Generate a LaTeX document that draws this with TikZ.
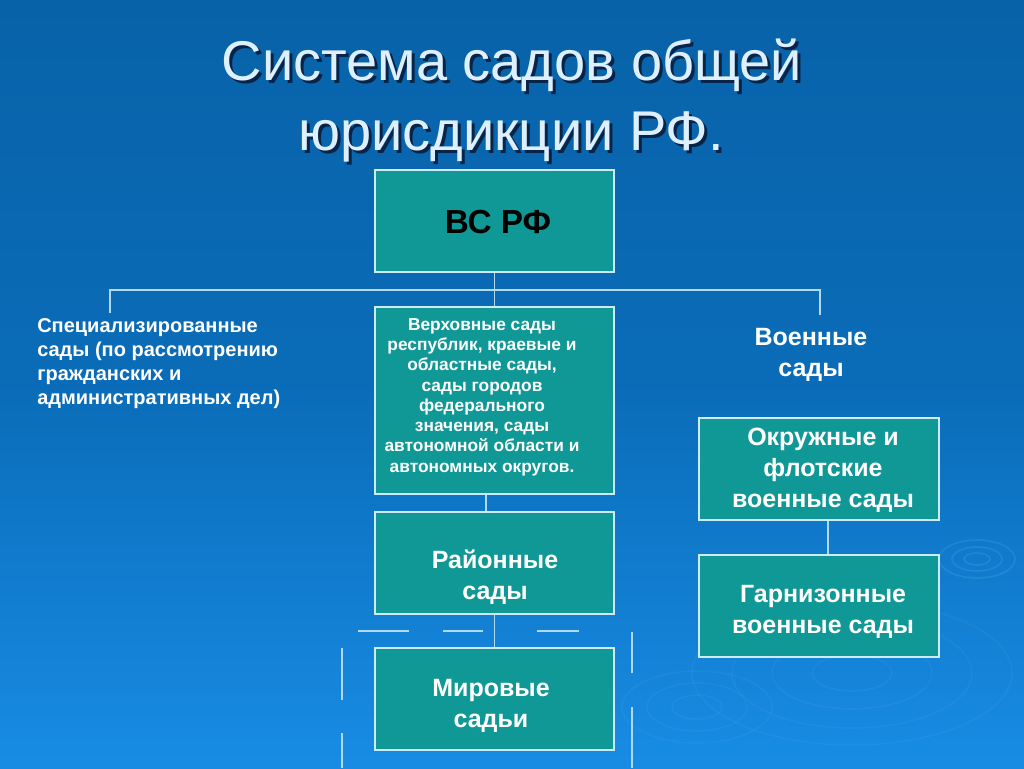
\documentclass[tikz,border=0pt]{standalone}
\usepackage{fontspec}
\setmainfont{Liberation Sans}
\definecolor{bgtop}{RGB}{8,98,168}
\definecolor{bgmid}{RGB}{10,108,184}
\definecolor{bgbot}{RGB}{24,140,228}
\definecolor{tealfill}{RGB}{16,152,150}
\definecolor{edgec}{RGB}{205,235,245}
\definecolor{lnc}{RGB}{175,218,242}
\definecolor{titlec}{RGB}{222,240,255}
\definecolor{shadowc}{RGB}{8,36,72}
\definecolor{ripc}{RGB}{120,200,250}
\begin{document}
\begin{tikzpicture}[x=0.75pt,y=-0.75pt,
  boxnode/.style={draw=edgec, line width=1.1pt, fill=tealfill, inner sep=0pt,
    minimum width=179.25pt, minimum height=76.5pt},
  conn/.style={draw=lnc, line width=1pt},
  deco/.style={draw=lnc, line width=1pt},
  rip/.style={draw=ripc, line width=1.2pt, opacity=0.16},
  titletxt/.style={font=\fontsize{42}{50}\selectfont, inner sep=0pt, anchor=base},
  bigtxt/.style={text=white, font=\bfseries\fontsize{18.75}{23.25}\selectfont, align=center, inner sep=0pt},
  smalltxt/.style={text=white, font=\bfseries\fontsize{13}{15.2}\selectfont, align=center, inner sep=0pt},
  spectxt/.style={text=white, font=\bfseries\fontsize{15}{18}\selectfont, align=left, inner sep=0pt}]
\useasboundingbox (0,0) rectangle (1024,768);
% background
\shade[top color=bgtop, bottom color=bgbot, middle color=bgmid] (0,0) rectangle (1024,768);
% ripples
\foreach \a/\b in {13/6,25/12,38/19} {\draw[rip] (977,559) ellipse ({\a*0.75pt} and {\b*0.75pt});}
\foreach \a/\b in {40/18,80/36,120/55,160/72} {\draw[rip, opacity=0.08] (852,673) ellipse ({\a*0.75pt} and {\b*0.75pt});}
\foreach \a/\b in {25/12,50/24,75/36} {\draw[rip, opacity=0.08] (697,707) ellipse ({\a*0.75pt} and {\b*0.75pt});}
% title
\node[titletxt, text=shadowc] (t1s) at (515,83) {Система садов общей};
\node[titletxt, text=titlec] (t1) at (512,80) {Система садов общей};
\node[titletxt, text=shadowc] (t2s) at (514,153) {юрисдикции РФ.};
\node[titletxt, text=titlec] (t2) at (511,150) {юрисдикции РФ.};
% boxes
\node[boxnode] (vs) at (494.5,221) {};
\node[boxnode, minimum height=140.25pt] (verh) at (494.5,400.5) {};
\node[boxnode] (ray) at (494.5,563) {};
\node[boxnode] (mir) at (494.5,699) {};
\node[boxnode, minimum width=180pt] (okr) at (819,469) {};
\node[boxnode, minimum width=180pt] (garn) at (819,606) {};
% texts
\node[inner sep=0pt, font=\bfseries\fontsize{25}{30}\selectfont, text=black] (vst) at (498,222) {ВС РФ};
\node[smalltxt] (verht) at (482,397) {Верховные сады\\республик, краевые и\\областные сады,\\сады городов\\федерального\\значения, сады\\автономной области и\\автономных округов.};
\node[bigtxt] (rayt) at (495,577) {Районные\\сады};
\node[bigtxt] (mirt) at (491,706) {Мировые\\садьи};
\node[bigtxt] (okrt) at (823,470) {Окружные и\\флотские\\военные сады};
\node[bigtxt] (garnt) at (823,611.5) {Гарнизонные\\военные сады};
\node[bigtxt] (voen) at (811,355) {Военные\\сады};
\node[spectxt, anchor=west] (spec) at (37,364) {Специализированные\\сады (по рассмотрению\\гражданских и\\административных дел)};
% connectors
\coordinate (barL) at (110,290);
\coordinate (barR) at (820,290);
\coordinate (specTop) at (110,313);
\coordinate (voenTop) at (820,315);
\draw[conn] (specTop) -- (barL) -- (barR) -- (voenTop);
\draw[conn] (vs.south) -- (verh.north);
\draw[conn] ([xshift=-6.4pt]verh.south) -- ([xshift=-6.4pt]ray.north);
\draw[conn] (ray.south) -- (mir.north);
\draw[conn] ([xshift=6.75pt]okr.south) -- ([xshift=6.75pt]garn.north);
% decorative stray lines
\coordinate (h1a) at (358,631); \coordinate (h1b) at (409,631);
\coordinate (h2a) at (443,631); \coordinate (h2b) at (483,631);
\coordinate (h3a) at (537,631); \coordinate (h3b) at (579,631);
\coordinate (v1a) at (342,648); \coordinate (v1b) at (342,700);
\coordinate (v2a) at (342,733); \coordinate (v2b) at (342,768);
\coordinate (v3a) at (632,632); \coordinate (v3b) at (632,673);
\coordinate (v4a) at (632,707); \coordinate (v4b) at (632,768);
\draw[deco] (h1a) -- (h1b);
\draw[deco] (h2a) -- (h2b);
\draw[deco] (h3a) -- (h3b);
\draw[deco] (v1a) -- (v1b);
\draw[deco] (v2a) -- (v2b);
\draw[deco] (v3a) -- (v3b);
\draw[deco] (v4a) -- (v4b);
\end{tikzpicture}
\end{document}
